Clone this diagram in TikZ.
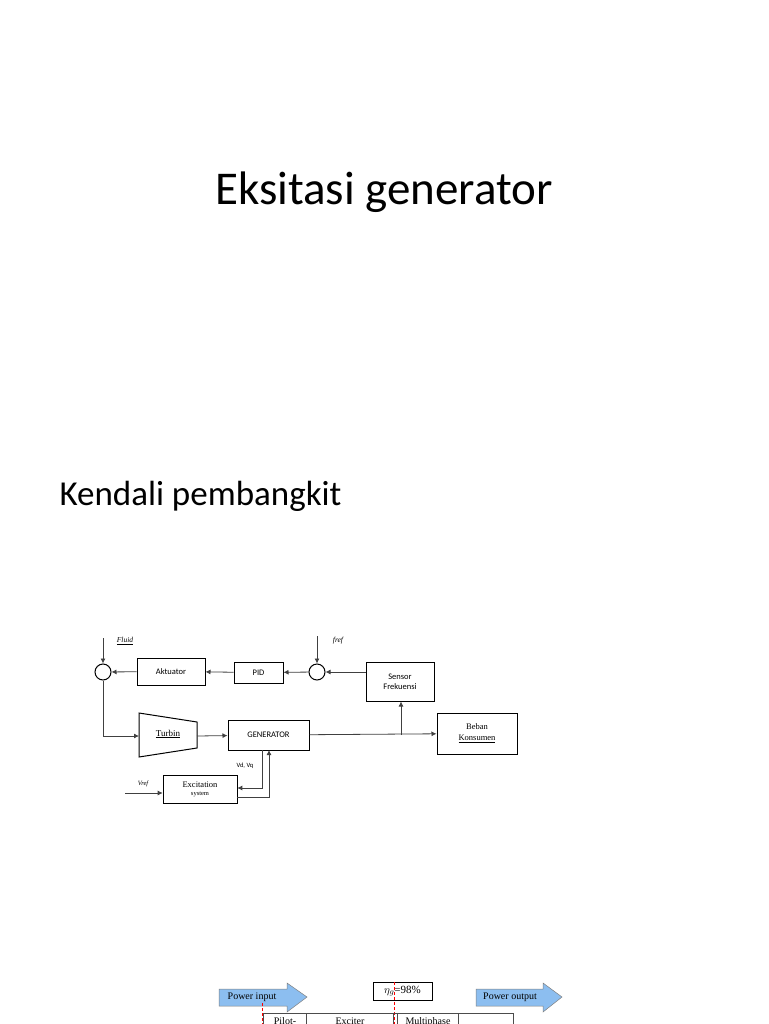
\documentclass[tikz,border=0pt]{standalone}
\usepackage{fontspec}
\setmainfont{Carlito}
\newfontfamily\tnr{Liberation Serif}
\definecolor{skyb}{RGB}{140,190,240}
\begin{document}
\begin{tikzpicture}[x=1pt,y=-1pt,
 blk/.style={draw,line width=1pt,fill=white,font=\fontsize{8.5}{10}\selectfont,align=center,inner sep=0},
 ln/.style={draw=black!75,line width=0.8pt},
 arr/.style={ln,-{Latex[length=5pt,width=5pt]}},
 sumc/.style={circle,draw,line width=1pt,minimum size=16pt,inner sep=0},
 bluearr/.style={draw=black!50,fill=skyb,line width=0.5pt}]
\usetikzlibrary{arrows.meta}
\path[use as bounding box,fill=white] (0,0) rectangle (768,1024);
\clip (0,0) rectangle (768,1024);
\node[font=\fontsize{47}{50}\selectfont] (title) at (384,192) {Eksitasi generator};
\node[anchor=west,font=\fontsize{35}{38}\selectfont] (sub) at (56,496) {Kendali pembangkit};
% diagram 1
\node[sumc] (s1) at (103,672) {};
\node[sumc] (s2) at (317,672) {};
\node[blk,minimum width=68pt,minimum height=27pt] (akt) at (171,671.5) {Aktuator};
\node[blk,minimum width=49pt,minimum height=21pt] (pid) at (258.5,672.5) {PID};
\node[blk,minimum width=68pt,minimum height=39pt] (sen) at (400,681.5) {Sensor\\Frekuensi};
\draw[line width=1pt,fill=white] (139,713) -- (197,722) -- (197,748) -- (139,757) -- cycle;
\node[font=\tnr\fontsize{9}{10}\selectfont] (tur) at (168,734) {\underline{Turbin}};
\coordinate (turl) at (139,736);
\coordinate (turr) at (197,736);
\node[blk,minimum width=81pt,minimum height=30pt] (gen) at (268.5,735) {GENERATOR};
\node[blk,minimum width=80pt,minimum height=41pt,font=\tnr\fontsize{8.5}{11}\selectfont] (beb) at (477,733.5) {Beban\\\underline{Konsumen}};
\node[blk,minimum width=74pt,minimum height=28pt,line width=0.6pt,font=\tnr\fontsize{8.5}{9}\selectfont] (exc) at (200,789) {Excitation\\[-1pt]{\fontsize{6.5}{7}\selectfont system}};
\coordinate (fl) at (103,638);
\coordinate (fr) at (317,636);
\coordinate (vr) at (125,793);
\node[font=\tnr\itshape\fontsize{7.5}{8}\selectfont] (fll) at (125,641) {\underline{Fluid}};
\node[font=\tnr\itshape\fontsize{7.5}{8}\selectfont] (frl) at (338,641) {fref};
\node[font=\tnr\itshape\fontsize{6.5}{7}\selectfont] (vrl) at (143,784) {Vref};
\node[font=\fontsize{6.5}{7}\selectfont] (vdq) at (245,766) {Vd, Vq};
\draw[arr] (fl) -- (s1);
\draw[arr] (fr) -- (s2);
\draw[arr] (akt) -- (s1);
\draw[arr] (pid) -- (akt);
\draw[arr] (s2) -- (pid);
\draw[arr] (sen.west |- s2) -- (s2);
\draw[arr] (s1) |- (turl);
\draw[arr] (turr) -- (gen);
\draw[arr] (gen) -- (beb);
\coordinate (br) at (401,735);
\draw[arr] (br) -- (sen.south -| br);
\draw[arr] (262,750) |- (exc.east |- 0,788);
\draw[arr] (exc.east |- 0,797) -| (269,750);
\draw[arr] (vr) -- (exc.west |- vr);
% diagram 2
\draw[bluearr] (219,989) -- (287,989) -- (287,983) -- (307,997) -- (287,1012) -- (287,1006) -- (219,1006) -- cycle;
\node[font=\tnr\fontsize{10}{10}\selectfont] (pin) at (252,997) {Power input};
\draw[bluearr] (476,989) -- (543,989) -- (543,983) -- (562,997) -- (543,1012) -- (543,1006) -- (476,1006) -- cycle;
\node[font=\tnr\fontsize{10}{10}\selectfont] (pout) at (510,997) {Power output};
\node[draw,line width=0.5pt,minimum width=59pt,minimum height=18pt,inner sep=0,font=\tnr\fontsize{11}{11}\selectfont] (eta) at (402.5,991) {$\eta_g$=98\%};
\draw[red,densely dashed,line width=0.4pt] (262,1003) -- (262,1024);
\draw[red,densely dashed,line width=0.4pt] (394,982) -- (394,1024);
\draw[black!70,line width=0.5pt] (263,1013) -- (513,1013);
\foreach \xx in {263,306,393,397,458,513} \draw[black!70,line width=0.5pt] (\xx,1013) -- (\xx,1024);
\node[font=\tnr\fontsize{10}{10}\selectfont,anchor=north] (c1) at (285,1014) {Pilot-};
\node[font=\tnr\fontsize{10}{10}\selectfont,anchor=north] (c2) at (350,1014) {Exciter};
\node[font=\tnr\fontsize{10}{10}\selectfont,anchor=north] (c3) at (428,1014) {Multiphase};
\end{tikzpicture}
\end{document}
